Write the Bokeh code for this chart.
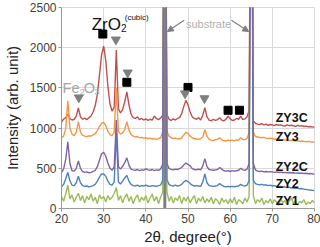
from bokeh.plotting import figure
from bokeh.models import Range1d, ColumnDataSource, Arrow, NormalHead, FixedTicker
from bokeh.core.properties import value
from bokeh.embed import file_html
from bokeh.resources import INLINE

two_theta = [20 + 0.5 * i for i in range(121)]

zy3c = [1080, 1110, 1130, 1175, 1120, 1100, 1110, 1150, 1250, 1140,
        1110, 1125, 1105, 1130, 1150, 1200, 1280, 1420, 1660, 1910,
        2020, 1840, 1520, 1300, 1210, 1260, 1970, 1240, 1190, 1230,
        1330, 1450, 1290, 1170, 1130, 1120, 1140, 1105, 1120, 1100,
        1115, 1095, 1110, 1100, 1150, 1120, 1105, 1125, 1160, 6000,
        1170, 1110, 1095, 1115, 1100, 1120, 1130, 1180, 1270, 1345,
        1290, 1200, 1140, 1120, 1110, 1130, 1100, 1160, 1255, 1140,
        1100, 1090, 1110, 1095, 1105, 1130, 1100, 1090, 1110, 1150,
        1115, 1095, 1100, 1120, 1110, 1150, 1105, 1115, 1140, 1220,
        6000, 1090, 1060, 1050, 1045, 1055, 1040, 1050, 1035, 1045,
        1040, 1030, 1045, 1035, 1040, 1030, 1025, 1040, 1030, 1035,
        1030, 1020, 1035, 1025, 1030, 1020, 1025, 1015, 1020, 1015,
        1010]

zy3 = [880, 900, 990, 1340, 1000, 925, 905, 950, 1080, 950,
       910, 900, 895, 905, 900, 915, 930, 970, 1020, 1060,
       1070, 1030, 960, 920, 905, 950, 1500, 960, 925, 940,
       985, 1080, 975, 920, 900, 890, 895, 880, 885, 875,
       880, 870, 875, 865, 870, 860, 870, 880, 950, 6000,
       960, 900, 880, 870, 875, 865, 870, 880, 915, 945,
       935, 900, 880, 870, 865, 860, 870, 890, 980, 900,
       860, 850, 845, 855, 860, 880, 855, 845, 840, 850,
       845, 850, 840, 855, 850, 880, 860, 855, 870, 950,
       6000, 950, 895, 890, 885, 880, 885, 875, 870, 875,
       870, 865, 860, 865, 855, 860, 850, 855, 845, 850,
       845, 840, 845, 835, 840, 835, 830, 835, 830, 828,
       825]

zy2c = [450, 490, 610, 830, 560, 470, 465, 500, 590, 500,
        460, 450, 455, 445, 450, 460, 475, 520, 600, 680,
        700, 650, 565, 500, 475, 520, 1100, 520, 490, 525,
        570, 630, 540, 490, 480, 475, 485, 470, 480, 475,
        495, 480, 475, 485, 470, 480, 475, 490, 550, 6000,
        560, 500, 485, 480, 490, 485, 495, 510, 540, 565,
        550, 530, 495, 485, 480, 490, 480, 530, 620, 520,
        485, 480, 475, 480, 485, 510, 490, 470, 465, 470,
        460, 470, 465, 470, 475, 500, 480, 475, 490, 560,
        6000, 560, 480, 465, 460, 465, 455, 460, 455, 458,
        455, 450, 455, 448, 452, 445, 450, 445, 448, 442,
        445, 440, 442, 438, 440, 435, 438, 432, 435, 430,
        430]

zy2 = [270, 300, 370, 450, 345, 290, 285, 320, 400, 320,
       285, 275, 280, 270, 275, 285, 300, 340, 390, 430,
       430, 400, 340, 300, 290, 330, 950, 330, 305, 340,
       380, 410, 340, 300, 285, 280, 290, 275, 285, 280,
       290, 280, 275, 285, 280, 275, 285, 290, 350, 6000,
       360, 300, 285, 280, 290, 280, 285, 300, 330, 350,
       335, 310, 290, 280, 285, 280, 275, 330, 430, 320,
       285, 280, 275, 280, 285, 310, 290, 275, 270, 275,
       270, 275, 270, 275, 280, 300, 285, 280, 290, 350,
       6000, 350, 310, 300, 295, 300, 290, 295, 285, 290,
       280, 285, 275, 270, 275, 265, 270, 260, 265, 255,
       255, 250, 252, 245, 248, 240, 238, 232, 230, 226,
       222]

zy1 = [150, 90, 180, 290, 120, 170, 80, 140, 190, 100,
       160, 70, 150, 110, 180, 90, 140, 60, 170, 120,
       150, 80, 160, 110, 140, 190, 260, 100, 160, 70,
       140, 180, 90, 150, 60, 130, 170, 80, 140, 100,
       160, 70, 130, 180, 90, 150, 60, 140, 200, 6000,
       210, 90, 150, 70, 130, 100, 160, 60, 140, 90,
       150, 70, 120, 160, 60, 130, 90, 150, 70, 120,
       80, 140, 60, 120, 100, 50, 130, 80, 110, 60,
       120, 70, 140, 50, 110, 90, 60, 130, 80, 150,
       6000, 160, 60, 110, 80, 130, 50, 100, 70, 120,
       60, 110, 80, 40, 120, 70, 100, 50, 90, 130,
       60, 100, 40, 90, 70, 110, 50, 80, 60, 100,
       70]

series_names = ["ZY3C", "ZY3", "ZY1", "ZY2", "ZY2C"]
series_colors = ["#C0504D", "#F79646", "#9BBB59", "#4F81BD", "#8064A2"]
series_values = [zy3c, zy3, zy1, zy2, zy2c]

label_names = ["ZY3C", "ZY3", "ZY2C", "ZY2", "ZY1"]
label_x = [70.8, 70.8, 70.8, 70.8, 70.8]
label_y = [1126, 891, 520, 309, 99]

square_x = [29.8, 35.5, 50.0, 59.5, 62.2]
square_y = [2170, 1570, 1506, 1222, 1222]
tri_x = [32.9, 35.7, 24.1, 49.3, 53.9]
tri_y = [2100, 1690, 1380, 1430, 1370]

substrate_x = [44.5]

p = figure(width=320, height=247, output_backend="svg", toolbar_location=None,
           x_range=Range1d(20, 80), y_range=Range1d(0, 2500),
           min_border_left=54, min_border_right=6, min_border_top=7, min_border_bottom=38)
p.background_fill_color = "white"
p.border_fill_color = "white"
p.outline_line_color = "#d9d9d9"

for name, col, vals in zip(series_names, series_colors, series_values):
    p.line(two_theta, vals, line_color=col, line_width=1.4)

p.segment(x0=substrate_x, y0=[0], x1=substrate_x, y1=[2500], line_color="#808080", line_width=3)

p.scatter(square_x, square_y, marker="square", size=8, fill_color="black", line_color="black")
p.scatter(tri_x, tri_y, marker="inverted_triangle", size=9, fill_color="#7f7f7f", line_color="#7f7f7f")

font = value("Liberation Sans")
p.text(label_x, label_y, text=label_names, text_font=font, text_font_size="12.5px",
       text_font_style="bold", text_baseline="middle", text_align="left", text_color="#111111")

# ZrO2 (cubic)
p.text([27.15], [2290], text=["ZrO"], text_font=font, text_font_size="17px",
       text_baseline="alphabetic", text_color="#111111")
p.text([34.1], [2250], text=["2"], text_font=font, text_font_size="10px",
       text_baseline="alphabetic", text_color="#111111")
p.text([35.0], [2370], text=["(cubic)"], text_font=font, text_font_size="8px",
       text_baseline="alphabetic", text_color="#111111")

# Fe2O3
fe_col = "#a6a6a6"
p.text([20.25], [1500], text=["Fe"], text_font=font, text_font_size="14.5px",
       text_baseline="alphabetic", text_color=fe_col)
p.text([24.3], [1445], text=["2"], text_font=font, text_font_size="9px",
       text_baseline="alphabetic", text_color=fe_col)
p.text([25.3], [1500], text=["O"], text_font=font, text_font_size="14.5px",
       text_baseline="alphabetic", text_color=fe_col)
p.text([27.8], [1445], text=["3"], text_font=font, text_font_size="9px",
       text_baseline="alphabetic", text_color=fe_col)

# substrate
p.text([49.5], [2290], text=["substrate"], text_font=font, text_font_size="11px",
       text_baseline="alphabetic", text_color="#b0b0b0")
arrow_start_x = [49.1, 60.3]
arrow_end_x = [45.1, 64.4]
arrow_start_y = [2340, 2340]
arrow_end_y = [2200, 2200]
for xs, ys, xe, ye in zip(arrow_start_x, arrow_start_y, arrow_end_x, arrow_end_y):
    p.add_layout(Arrow(end=NormalHead(size=6, fill_color="#808080", line_color="#808080"),
                       x_start=xs, y_start=ys, x_end=xe, y_end=ye,
                       line_color="#808080", line_width=1.2))

p.xaxis.ticker = FixedTicker(ticks=[20, 30, 40, 50, 60, 70, 80])
p.yaxis.ticker = FixedTicker(ticks=[0, 500, 1000, 1500, 2000, 2500])
p.xaxis.axis_label = "2θ, degree(°)"
p.yaxis.axis_label = "Intensity (arb. unit)"
for ax in (p.xaxis, p.yaxis):
    ax.axis_label_text_font = "Liberation Sans"
    ax.axis_label_text_font_style = "normal"
    ax.axis_label_text_font_size = "15px"
    ax.axis_label_text_color = "#222222"
    ax.major_label_text_font = "Liberation Sans"
    ax.major_label_text_font_size = "12px"
    ax.major_label_text_color = "#404040"
    ax.axis_line_color = "#999999"
    ax.major_tick_line_color = "#999999"
    ax.major_tick_out = 3
    ax.major_tick_in = 0
    ax.minor_tick_line_color = None
    ax.major_label_standoff = 2
p.xaxis.axis_label_standoff = 2
p.yaxis.axis_label_standoff = 6
p.xgrid.ticker = FixedTicker(ticks=[20, 30, 40, 50, 60, 70, 80])
p.ygrid.ticker = FixedTicker(ticks=[0, 500, 1000, 1500, 2000, 2500])
p.grid.grid_line_color = "#d9d9d9"
p.grid.grid_line_width = 1

open("out.html", "w").write(file_html(p, INLINE))
